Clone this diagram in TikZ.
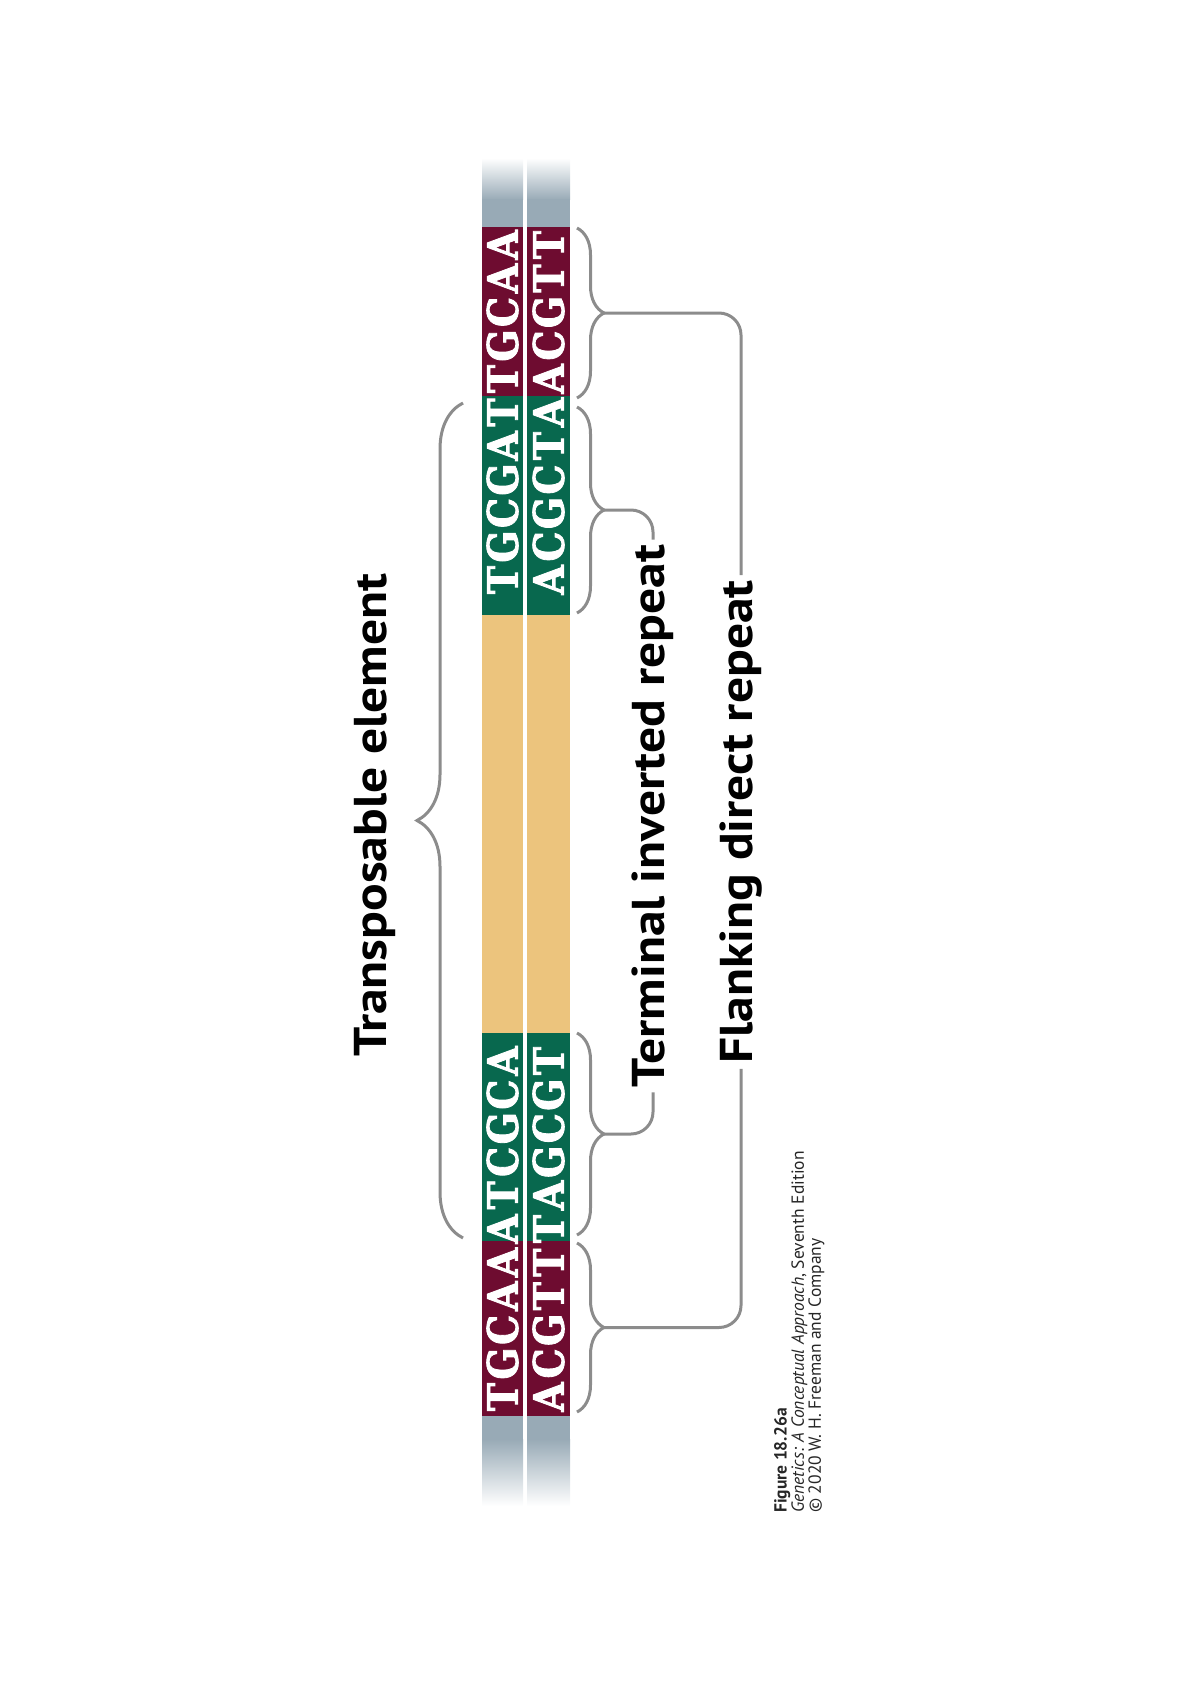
\documentclass[tikz,border=0pt]{standalone}
\usepackage{fontspec}
\setmainfont{PT Sans}
\newfontfamily\basefont[FakeStretch=0.9, FakeBold=2]{DejaVu Serif Bold}
\newfontfamily\tagfont[FakeStretch=1.12]{PT Sans}
\usetikzlibrary{decorations.pathreplacing}

\definecolor{maroonseg}{RGB}{110,12,48}
\definecolor{greenseg}{RGB}{8,104,78}
\definecolor{tanseg}{RGB}{236,196,125}
\definecolor{grayseg}{RGB}{152,170,182}
\definecolor{bracegray}{RGB}{140,140,140}

\begin{document}
\begin{tikzpicture}[x=1pt, y=-1pt]
    \tikzstyle{basetext}=[text=white, font=\basefont\fontsize{42}{42}\selectfont, rotate=90, inner sep=0pt]
    \tikzstyle{tagtext}=[font=\tagfont\bfseries\fontsize{46}{46}\selectfont, rotate=90, inner sep=5pt]
    \tikzstyle{bracebar}=[draw=bracegray, line width=3pt, decorate, decoration={brace, amplitude=27pt}]
    \tikzstyle{leadline}=[draw=bracegray, line width=3pt, rounded corners=22pt]

    \useasboundingbox (0,0) rectangle (1200,1696);

    % the two strands
    \foreach \xa/\xb in {482/523, 527/570} {
        \shade[top color=white, bottom color=grayseg] (\xa,158) rectangle (\xb,200);
        \fill[grayseg] (\xa,199) rectangle (\xb,227);
        \fill[maroonseg] (\xa,227) rectangle (\xb,396);
        \fill[greenseg] (\xa,396) rectangle (\xb,615);
        \fill[tanseg] (\xa,615) rectangle (\xb,1033);
        \fill[greenseg] (\xa,1033) rectangle (\xb,1241);
        \fill[maroonseg] (\xa,1241) rectangle (\xb,1417);
        \fill[grayseg] (\xa,1416) rectangle (\xb,1440);
        \shade[top color=grayseg, bottom color=white] (\xa,1439) rectangle (\xb,1506);
    }

    % bases
    \foreach \ch [count=\i] in {T,G,C,G,A,T,T,G,C,A,A}
        \node[basetext] (topL\i) at (502.5, 613.5-33.5*\i) {\ch};
    \foreach \ch [count=\i] in {A,C,G,C,T,A,A,C,G,T,T}
        \node[basetext] (topR\i) at (548.5, 613.5-33.5*\i) {\ch};
    \foreach \ch [count=\i] in {T,G,C,A,A,A,T,C,G,C,A}
        \node[basetext] (botL\i) at (502.5, 1430.6-33.6*\i) {\ch};
    \foreach \ch [count=\i] in {A,C,G,T,T,T,A,G,C,G,T}
        \node[basetext] (botR\i) at (548.5, 1430.6-33.6*\i) {\ch};

    % braces
    \draw[bracebar] (577,228) -- (577,398);
    \draw[bracebar] (577,407) -- (577,613);
    \draw[bracebar] (577,1033) -- (577,1235);
    \draw[bracebar] (577,1243) -- (577,1412);
    \draw[bracebar, decoration={amplitude=46pt}] (463,1238) -- (463,403);

    \coordinate (tipFlankTop) at (604,313);
    \coordinate (tipTermTop) at (604,510);
    \coordinate (tipTermBot) at (604,1134);
    \coordinate (tipFlankBot) at (604,1327.5);

    % labels
    \node[tagtext] (transLabel) at (375,815) {Transposable element};
    \node[tagtext] (termLabel) at (653,816) {Terminal inverted repeat};
    \node[tagtext] (flankLabel) at (741,822) {Flanking direct repeat};

    \draw[leadline] (tipFlankTop) -| (flankLabel.east);
    \draw[leadline] (tipFlankBot) -| (flankLabel.west);
    \draw[leadline] (tipTermTop) -| (termLabel.east);
    \draw[leadline] (tipTermBot) -| (termLabel.west);

    % caption
    \node[rotate=90, anchor=north west, align=left, inner sep=0pt, text=black!85,
          font=\fontsize{17.5}{15}\selectfont] (caption) at (774,1513)
          {\textbf{Figure 18.26a}\\\textit{Genetics: A Conceptual Approach}, Seventh Edition\\© 2020 W. H. Freeman and Company};
\end{tikzpicture}
\end{document}
